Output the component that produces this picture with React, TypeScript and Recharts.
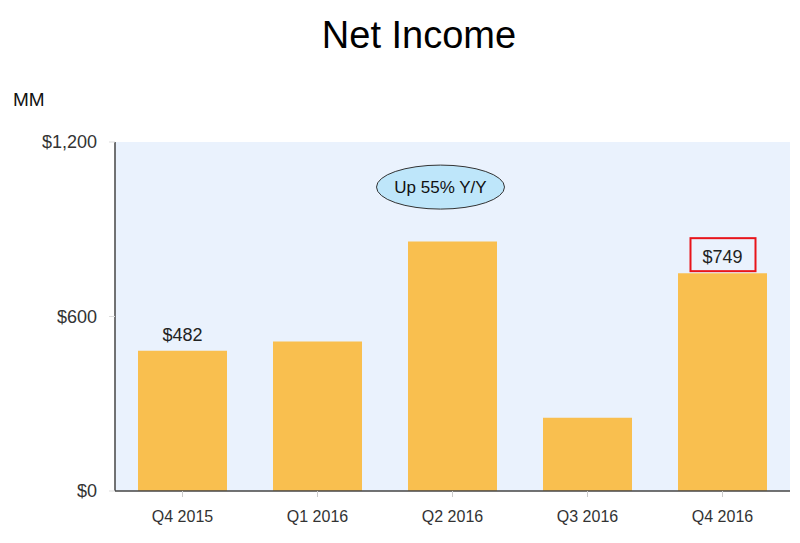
import { BarChart, Bar, XAxis, YAxis, ReferenceDot, LabelList } from 'recharts';

const quarters = ['Q4 2015', 'Q1 2016', 'Q2 2016', 'Q3 2016', 'Q4 2016'];
const netIncome = [482, 514, 858, 252, 749];
const valueLabels = ['$482', '', '', '', '$749'];
const boxedLabel = [false, false, false, false, true];
const yTicks = [0, 600, 1200];
const note = 'Up 55% Y/Y';

const data = quarters.map((q, i) => ({
  name: q,
  value: netIncome[i],
  label: valueLabels[i],
  boxed: boxedLabel[i],
}));

const fmtDollar = (v: number) => `$${v.toLocaleString('en-US')}`;

const font = '"Liberation Sans", Arial, sans-serif';

function BarLabel(props: any) {
  const { x, y, width, index } = props;
  const d = data[index];
  if (!d || !d.label) return null;
  const cx = x + width / 2;
  return (
    <g>
      {d.boxed && (
        <rect x={cx - 32} y={y - 35} width={65} height={33} fill="none" stroke="#E8141B" strokeWidth={2} />
      )}
      <text x={cx} y={y - 10} textAnchor="middle" fontSize={18} fill="#222" fontFamily={font}>
        {d.label}
      </text>
    </g>
  );
}

function NoteBubble(props: any) {
  const { cx, cy } = props;
  if (cx == null || cy == null) return null;
  const ex = cx - 12;
  return (
    <g>
      <ellipse cx={ex} cy={cy} rx={64} ry={22} fill="#BEE6FA" stroke="#333" strokeWidth={1} />
      <text x={ex} y={cy + 6} textAnchor="middle" fontSize={17} fill="#111" fontFamily={font}>
        {note}
      </text>
    </g>
  );
}

export default function App() {
  return (
    <div style={{ position: 'absolute', left: 0, top: 0, width: 800, height: 543, background: '#fff', fontFamily: font }}>
      <div style={{ position: 'absolute', left: 38, width: 762, top: 14, textAlign: 'center', fontSize: 38, color: '#000' }}>
        Net Income
      </div>
      <div style={{ position: 'absolute', left: 13, top: 89, fontSize: 19, color: '#111' }}>MM</div>
      <BarChart
        width={800}
        height={543}
        data={data}
        margin={{ top: 142, right: 10, bottom: 0, left: 0 }}
        barCategoryGap={23}
      >
        <rect x={115} y={142} width={675} height={349} fill="#EAF2FD" />
        <XAxis
          dataKey="name"
          height={52}
          axisLine={{ stroke: '#444', strokeWidth: 1.5 }}
          tickLine={{ stroke: '#ccc' }}
          tickSize={6}
          tickMargin={14}
          tick={{ fontSize: 16, fill: '#333', fontFamily: font }}
        />
        <YAxis
          width={115}
          domain={[0, 1200]}
          ticks={yTicks}
          tickFormatter={fmtDollar}
          axisLine={{ stroke: '#444', strokeWidth: 1.5 }}
          tickLine={{ stroke: '#ddd' }}
          tickSize={6}
          tickMargin={12}
          tick={{ fontSize: 18, fill: '#333', fontFamily: font }}
        />
        <Bar dataKey="value" fill="#F9BF4F" isAnimationActive={false}>
          <LabelList dataKey="label" content={BarLabel} />
        </Bar>
        <ReferenceDot x="Q2 2016" y={1045} shape={NoteBubble} />
      </BarChart>
    </div>
  );
}
